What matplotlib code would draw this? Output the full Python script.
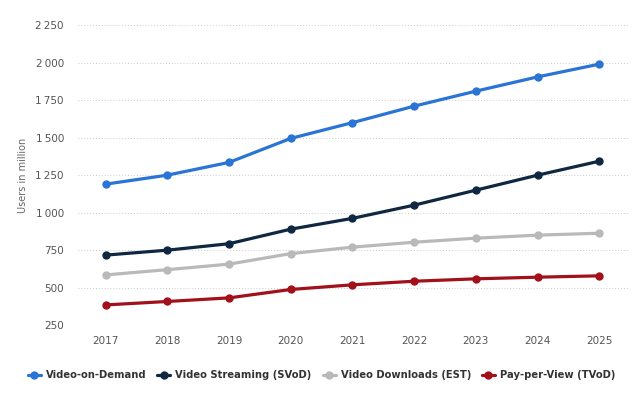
import matplotlib.pyplot as plt

years = [2017, 2018, 2019, 2020, 2021, 2022, 2023, 2024, 2025]
vod = [1190, 1250, 1335, 1495, 1600, 1710, 1810, 1905, 1990]
svod = [717, 750, 793, 890, 962, 1050, 1150, 1250, 1343]
est = [585, 620, 657, 727, 770, 803, 830, 850, 863]
tvod = [385, 408, 432, 488, 519, 543, 559, 570, 579]

names = ['Video-on-Demand', 'Video Streaming (SVoD)', 'Video Downloads (EST)', 'Pay-per-View (TVoD)']
colors = ['#2a74d6', '#0f2740', '#b9b9b9', '#a2101a']

fig = plt.figure(figsize=(6.43, 3.99), dpi=100)
ax = fig.add_axes([0.121, 0.185, 0.859, 0.752])

for vals, name, c in zip([vod, svod, est, tvod], names, colors):
    ax.plot(years, vals, color=c, lw=2.3, marker='o', ms=5, label=name,
            solid_capstyle='round')

ax.set_xlim(2016.55, 2025.5)
ax.set_ylim(250, 2250)
ax.set_xticks(years)
ax.set_yticks(range(250, 2251, 250))
ax.set_yticklabels([f'{v:,}'.replace(',', '\u2009') for v in range(250, 2251, 250)])
ax.grid(axis='y', color='#cccccc', linestyle=(0, (1, 2)), lw=0.7)
ax.set_axisbelow(True)
for s in ax.spines.values():
    s.set_visible(False)
ax.tick_params(length=0, labelsize=7.5, labelcolor='#555555')
ax.tick_params(axis='x', pad=8)
ax.tick_params(axis='y', pad=10)
ax.set_ylabel('Users in million', fontsize=7, color='#666666', labelpad=5)

fig.legend(*ax.get_legend_handles_labels(), loc='center', bbox_to_anchor=(0.5, 0.06),
           ncol=4, frameon=False, handlelength=1.3, columnspacing=1.1, handletextpad=0.5,
           labelcolor='#333333', prop={'weight': 'bold', 'size': 7.2})

fig.savefig('out.png', dpi=100)
